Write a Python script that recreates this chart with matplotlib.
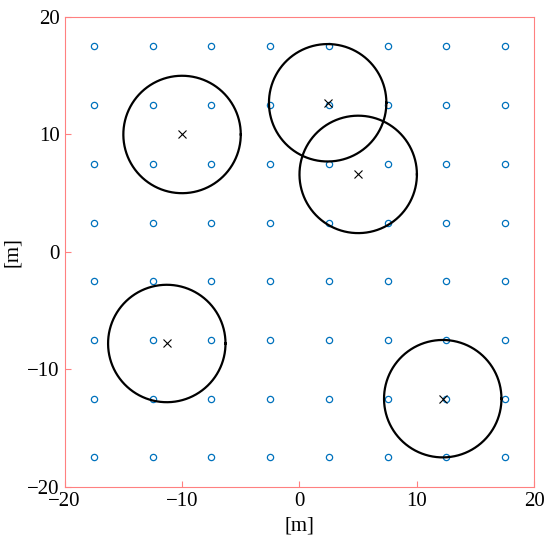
import matplotlib
matplotlib.use("Agg")
import matplotlib.pyplot as plt
import numpy as np

# sensor grid
grid_vals = [-17.5, -12.5, -7.5, -2.5, 2.5, 7.5, 12.5, 17.5]
# source centres (x) and their coverage radius
src_x = [-10.0, 2.4, 5.0, -11.3, 12.2]
src_y = [10.0, 12.7, 6.6, -7.8, -12.5]
radius = 5.0

plt.rcParams['font.family'] = ['Liberation Serif', 'DejaVu Serif']
plt.rcParams['font.size'] = 15

fig = plt.figure(figsize=(5.48, 5.50), dpi=100)
ax = fig.add_axes([0.113, 0.115, 0.867, 0.854])

gx, gy = np.meshgrid(grid_vals, grid_vals)
ax.plot(gx.ravel(), gy.ravel(), 'o', mfc='none', mec='#0072BD', ms=4.5, mew=0.9, ls='none')

t = np.linspace(0, 2*np.pi, 300)
for cx, cy in zip(src_x, src_y):
    ax.plot(cx + radius*np.cos(t), cy + radius*np.sin(t), 'k-', lw=1.6)
ax.plot(src_x, src_y, 'kx', ms=6, mew=0.8, ls='none')

ax.set_xlim(-20, 20)
ax.set_ylim(-20, 20)
ax.set_aspect('equal')
ax.set_xticks([-20, -10, 0, 10, 20])
ax.set_yticks([-20, -10, 0, 10, 20])
ax.tick_params(direction='in', length=4, color='#ff8080')
for s in ax.spines.values():
    s.set_color('#ff8080')
ax.set_xlabel('[m]')
ax.set_ylabel('[m]')

fig.savefig('out.png', dpi=100)
